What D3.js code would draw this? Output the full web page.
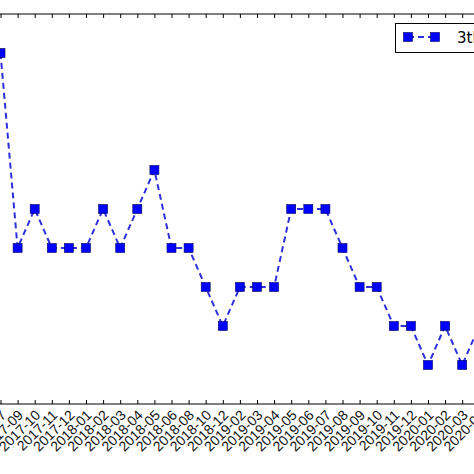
<!DOCTYPE html>
<html>
<head>
<meta charset="utf-8">
<script src="https://cdn.jsdelivr.net/npm/d3@7"></script>
<style>
  html, body { margin: 0; padding: 0; background: #fff; }
  svg { display: block; }
</style>
</head>
<body>
<script>
// months on the x axis (one tick per point)
let months = ["2017-07","2017-09","2017-10","2017-11","2017-12","2018-01","2018-02","2018-03",
  "2018-04","2018-05","2018-06","2018-08","2018-10","2018-12","2019-02","2019-03","2019-04",
  "2019-05","2019-06","2019-07","2019-08","2019-09","2019-10","2019-11","2019-12","2020-01",
  "2020-02","2020-03","2020-04"];
// series values
let values = [9,4,5,4,4,4,5,4,5,6,4,4,3,2,3,3,3,5,5,5,4,3,3,2,2,1,2,1,2];
let seriesName = "3th";
let yDomain = [0, 10];

let canvasW = 474;
let canvasH = 474;
let plotTop = 14, plotBottom = 404;

let svg = d3.select("body")
  .append("svg")
    .attr("width", canvasW)
    .attr("height", canvasH)
    .style("font-family", "DejaVu Sans, sans-serif");

let xScale = d3.scalePoint()
  .domain(months)
  .range([0.5, 0.5 + 17.1 * (months.length - 1)]);

let yScale = d3.scaleLinear()
  .domain(yDomain)
  .range([plotBottom, plotTop]);

// frame of the plot, the side edges sit outside the picture
svg.append("rect")
  .attr("x", -30)
  .attr("y", plotTop)
  .attr("width", canvasW + 60)
  .attr("height", plotBottom - plotTop)
  .attr("fill", "none")
  .attr("stroke", "black")
  .attr("stroke-width", 1);

// bottom axis, ticks point inward
const xAxis = svg.append("g")
  .attr("transform", "translate(0," + plotBottom + ")")
  .call(d3.axisBottom(xScale).tickSizeInner(-4).tickSizeOuter(0).tickPadding(0));
xAxis.select(".domain").remove();
xAxis.selectAll("text")
  .attr("font-size", "14px")
  .attr("fill", "#111")
  .attr("text-anchor", "end")
  .attr("dy", null)
  .attr("y", null)
  .attr("transform", "translate(6,12) rotate(-45)");

// top axis, ticks only
const topAxis = svg.append("g")
  .attr("transform", "translate(0," + plotTop + ")")
  .call(d3.axisTop(xScale).tickSizeInner(-4).tickSizeOuter(0).tickFormat(""));
topAxis.select(".domain").remove();

// the dashed line
let line = d3.line()
  .x((d, i) => xScale(months[i]))
  .y(d => yScale(d));

svg.append("path")
  .datum(values)
  .attr("d", line)
  .attr("fill", "none")
  .attr("stroke", "#2f2fdc")
  .attr("stroke-width", 2)
  .attr("stroke-dasharray", "6,4");

// square markers
svg.selectAll(".pt")
  .data(values)
  .enter()
  .append("rect")
    .attr("class", "pt")
    .attr("x", (d, i) => xScale(months[i]) - 4.5)
    .attr("y", d => yScale(d) - 4.5)
    .attr("width", 9)
    .attr("height", 9)
    .attr("fill", "#0000ff")
    .attr("stroke", "#000060")
    .attr("stroke-width", 0.6);

// legend, cut by the right edge
let legend = svg.append("g");
legend.append("rect")
  .attr("x", 395.5)
  .attr("y", 23.5)
  .attr("width", 120)
  .attr("height", 29)
  .attr("fill", "white")
  .attr("stroke", "black")
  .attr("stroke-width", 1);
legend.append("line")
  .attr("x1", 408).attr("x2", 435)
  .attr("y1", 37).attr("y2", 37)
  .attr("stroke", "#2f2fdc")
  .attr("stroke-width", 2)
  .attr("stroke-dasharray", "6,4");
[408, 435].forEach(x => {
  legend.append("rect")
    .attr("x", x - 4.5).attr("y", 32.5)
    .attr("width", 9).attr("height", 9)
    .attr("fill", "#0000ff")
    .attr("stroke", "#000060")
    .attr("stroke-width", 0.6);
});
legend.append("text")
  .attr("x", 457)
  .attr("y", 43)
  .attr("font-size", "15px")
  .attr("fill", "black")
  .text(seriesName);
</script>
</body>
</html>
